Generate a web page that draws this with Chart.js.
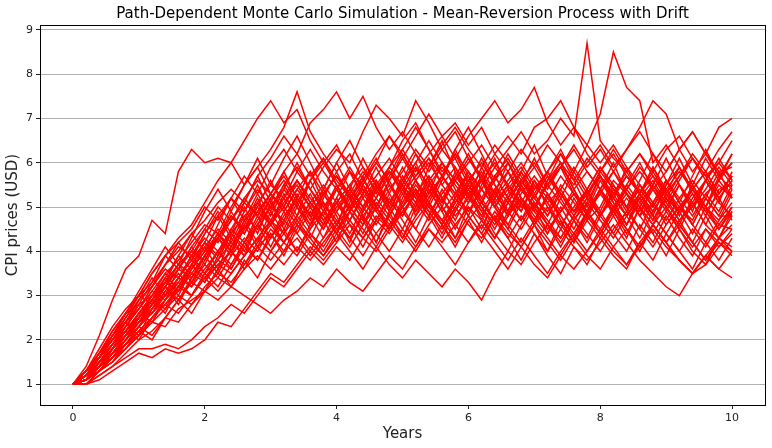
<!DOCTYPE html>
<html>
<head>
<meta charset="utf-8">
<script src="https://cdn.jsdelivr.net/npm/chart.js@4"></script>
<style>
  html, body { margin: 0; padding: 0; background: #fff; }
  canvas { display: block; }
</style>
</head>
<body>
<canvas id="mcChart" width="772" height="448"></canvas>
<script>
// time grid in years
const years = [0,0.2,0.4,0.6,0.8,1.0,1.2,1.4,1.6,1.8,2.0,2.2,2.4,2.6,2.8,3.0,3.2,3.4,3.6,3.8,4.0,4.2,4.4,4.6,4.8,5.0,5.2,5.4,5.6,5.8,6.0,6.2,6.4,6.6,6.8,7.0,7.2,7.4,7.6,7.8,8.0,8.2,8.4,8.6,8.8,9.0,9.2,9.4,9.6,9.8,10.0];

const xTicks = [0, 2, 4, 6, 8, 10];
const yTicks = [1, 2, 3, 4, 5, 6, 7, 8, 9];

// simulated CPI paths
const path01 = [1.0,1.4,2.1,2.9,3.6,3.9,4.7,4.4,5.8,6.3,6.0,6.1,6.0,5.5,5.9,5.3,5.0,5.6,5.2,4.8,5.4,5.0,4.6,5.2,5.8,5.5,6.0,5.4,4.9,5.3,5.7,5.1,4.7,5.2,4.9,5.5,5.1,4.6,5.0,5.4,4.8,5.2,5.7,5.3,4.9,5.4,5.0,4.7,5.3,5.6,5.2];
const path02 = [1.0,1.2,1.7,2.2,2.6,3.0,3.3,3.9,4.3,4.6,5.1,5.6,6.0,6.5,7.0,7.4,6.9,7.2,6.5,6.0,6.4,5.8,5.5,6.0,6.6,6.2,5.7,6.1,5.5,5.9,5.3,5.6,5.0,5.4,5.8,5.2,4.9,5.5,5.1,4.7,5.0,5.6,5.3,4.8,5.1,4.6,5.0,5.4,4.9,5.3,5.7];
const path03 = [1.0,1.1,1.5,1.9,2.4,2.7,3.1,3.5,3.8,4.2,4.6,4.4,5.0,5.5,5.9,6.3,6.8,7.6,6.7,6.2,5.8,6.2,5.6,5.2,5.7,6.3,6.8,6.3,5.8,6.1,5.5,5.1,5.6,6.0,5.4,5.0,5.5,5.9,5.3,4.9,5.4,5.0,4.6,5.1,5.5,5.0,4.6,5.2,5.6,5.1,4.8];
const path04 = [1.0,1.3,1.6,2.0,2.5,2.9,3.2,3.7,4.0,4.4,4.7,5.1,5.4,5.1,5.7,6.1,6.6,6.2,6.9,7.2,7.6,7.0,7.5,6.8,6.3,6.7,6.2,5.8,6.3,5.9,5.4,5.8,5.2,5.6,6.0,5.5,5.1,5.4,4.9,5.3,5.7,5.2,4.8,5.2,5.6,5.1,4.7,5.0,5.4,5.9,5.5];
const path05 = [1.0,1.0,1.3,1.5,1.8,2.1,2.4,2.3,2.7,2.9,3.1,2.9,3.2,3.0,2.8,2.6,2.9,3.1,3.4,3.2,3.6,3.3,3.1,3.5,3.9,3.6,4.1,4.5,4.2,4.6,5.0,4.7,4.3,4.8,5.2,4.9,4.5,4.9,5.3,4.8,4.4,4.9,5.3,5.0,4.6,4.2,4.7,5.1,4.6,4.3,4.8];
const path06 = [1.0,1.1,1.3,1.6,1.9,2.3,2.6,2.9,3.2,3.0,3.4,3.7,4.0,3.6,4.1,4.4,4.0,4.6,4.3,3.9,4.4,4.0,3.6,4.1,3.7,3.4,3.8,3.5,3.2,3.6,3.3,2.9,3.5,4.0,3.7,4.2,4.6,4.3,4.8,4.4,4.0,4.5,4.9,4.5,4.1,4.6,5.0,4.6,4.2,4.7,5.1];
const path07 = [1.0,1.2,1.6,2.1,2.4,2.8,3.0,3.4,3.9,3.6,4.0,4.3,4.8,4.5,5.1,5.5,5.2,5.8,5.4,5.9,6.3,6.0,6.7,7.3,7.0,6.6,7.4,6.9,6.3,6.7,6.1,5.6,6.0,5.5,5.0,5.4,5.8,5.3,4.9,5.3,5.7,5.2,4.8,5.3,5.7,5.2,4.9,5.4,5.0,4.6,5.0];
const path08 = [1.0,1.2,1.5,1.8,2.2,2.5,2.9,3.3,3.1,3.6,4.0,4.4,4.1,4.7,5.0,4.6,5.1,5.5,5.0,5.4,4.9,5.3,5.8,5.4,5.9,6.3,5.8,6.2,6.6,6.1,6.6,7.0,7.4,6.9,7.2,7.7,6.9,6.4,6.8,6.2,5.8,6.2,5.7,5.3,5.8,5.3,4.9,5.4,5.8,5.3,5.7];
const path09 = [1.0,1.3,1.7,2.1,2.6,2.8,3.3,3.7,4.1,3.9,4.4,4.8,5.2,4.9,5.4,5.0,5.5,5.9,5.4,5.0,5.4,5.8,5.3,5.7,6.1,5.6,6.0,6.5,6.0,5.6,6.0,6.4,5.9,6.3,6.7,6.2,6.5,7.0,6.6,8.7,6.5,6.1,5.8,6.2,5.7,5.3,5.7,6.1,5.6,5.2,5.6];
const path10 = [1.0,1.1,1.4,1.8,2.1,2.5,2.9,3.2,3.6,3.4,3.9,4.3,4.0,4.5,4.9,4.6,5.0,4.6,5.1,5.5,5.1,4.7,5.2,5.6,5.1,4.8,5.3,5.7,5.2,4.8,5.2,5.6,5.1,5.5,5.9,5.4,5.8,6.2,5.8,6.4,7.1,8.5,7.7,7.4,6.0,6.4,5.9,5.4,5.8,5.3,5.7];
const path11 = [1.0,1.2,1.5,1.9,2.2,2.6,2.9,3.4,3.2,3.7,4.1,4.5,4.2,4.8,5.1,4.7,5.2,5.6,5.1,4.7,5.1,5.5,5.0,5.4,5.8,5.3,4.9,5.3,5.7,5.2,5.6,6.0,5.5,5.1,5.6,6.0,5.5,5.9,6.4,5.9,6.3,5.8,6.3,6.8,7.4,7.1,6.3,6.7,6.2,6.8,7.0];
const path12 = [1.0,1.1,1.3,1.6,1.9,2.1,2.4,2.7,3.0,2.8,3.2,3.5,3.3,3.7,4.1,3.8,4.2,4.6,4.2,3.9,4.3,4.7,4.3,4.0,4.5,4.9,4.5,4.1,4.6,4.2,4.7,5.1,4.7,4.3,4.8,4.4,4.0,4.5,4.1,3.8,4.2,4.6,4.2,3.8,3.5,3.2,3.0,3.5,3.9,3.6,4.0];
const path13 = [1.0,1.0,1.2,1.4,1.7,2.0,2.2,2.5,2.4,2.8,3.1,3.4,3.2,3.6,3.9,3.6,4.0,4.3,3.9,4.3,4.7,4.3,3.9,4.4,4.8,4.4,4.0,4.5,4.1,3.7,4.2,4.6,4.2,3.8,4.3,3.9,3.5,4.0,4.4,4.0,4.5,4.1,3.7,4.2,4.6,4.2,3.8,3.5,3.9,3.6,3.4];
const path14 = [1.0,1.2,1.4,1.8,2.1,2.4,2.8,3.0,3.4,3.8,3.5,4.0,4.4,4.1,4.6,5.0,4.7,5.2,4.8,5.3,5.7,5.3,4.9,5.4,5.8,5.4,5.0,5.5,5.9,5.5,5.1,5.6,5.2,4.8,5.3,5.7,5.3,4.9,5.4,5.8,5.4,5.0,5.5,5.1,4.7,5.2,5.7,6.2,5.8,6.3,6.7];
const path15 = [1.0,1.1,1.5,1.7,2.0,2.3,2.7,3.1,2.9,3.3,3.7,3.4,3.9,4.3,4.0,4.5,4.2,4.7,5.1,4.8,4.4,4.9,5.3,4.9,5.4,5.8,6.3,5.9,6.4,6.8,6.3,5.9,6.4,6.0,5.5,5.9,6.4,6.0,5.6,6.1,5.7,5.3,5.8,6.2,5.8,6.3,6.6,6.1,5.7,6.0,6.5];
const path16 = [1.0,1.1,1.4,1.7,1.9,2.2,2.5,2.8,3.2,3.0,3.5,3.8,3.6,4.1,3.8,4.3,4.7,4.4,4.9,4.5,5.0,5.4,5.0,4.6,5.1,5.5,5.1,4.7,5.2,5.6,5.2,4.8,5.3,4.9,4.5,5.0,4.6,4.2,4.7,5.1,4.7,4.3,4.8,5.2,4.8,4.4,4.9,5.3,4.9,4.5,4.9];
const path17 = [1.0,1.0,1.1,1.3,1.5,1.7,1.6,1.8,1.7,1.8,2.0,2.4,2.3,2.7,3.1,3.5,3.3,3.7,4.1,3.8,4.2,4.6,4.3,4.8,4.5,5.0,5.4,5.0,4.6,5.1,5.5,5.1,4.7,5.2,5.6,5.2,4.8,5.3,4.9,5.3,5.8,5.4,5.0,5.5,5.1,4.7,5.2,5.6,5.2,4.8,5.4];
const path18 = [1.0,1.0,1.2,1.4,1.6,1.8,1.8,1.9,1.8,2.0,2.3,2.5,2.8,2.6,3.0,3.4,3.2,3.6,4.0,3.7,4.1,3.8,4.3,4.7,4.4,4.9,5.3,4.9,4.5,5.0,4.6,4.3,4.8,4.4,4.1,4.6,5.0,4.6,4.2,4.7,4.3,4.8,5.2,4.8,4.4,4.9,4.5,4.1,4.5,4.2,4.0];
const path19 = [1.0,1.2,1.6,2.0,2.3,2.7,3.1,2.9,3.4,3.8,4.2,3.9,4.4,4.8,4.5,5.0,5.4,5.0,4.6,5.1,4.7,4.3,4.8,5.2,4.8,5.3,5.7,6.1,5.7,6.2,5.8,5.4,5.9,5.5,5.1,4.7,5.2,4.8,4.4,4.9,5.3,4.9,5.4,5.8,5.4,5.0,5.5,5.1,5.6,6.0,5.6];
const path20 = [1.0,1.1,1.4,1.6,1.9,2.3,2.1,2.5,2.9,3.3,3.1,3.6,4.0,3.7,4.2,4.6,4.2,3.9,4.4,4.1,4.6,5.0,4.6,5.1,4.7,4.3,4.8,5.2,5.7,5.3,4.9,5.4,5.0,4.6,4.2,4.7,4.3,3.9,4.4,4.8,4.4,4.9,4.5,4.1,4.6,5.0,4.6,4.2,3.8,4.3,4.1];
const path21 = [1.0,1.3,1.8,2.3,2.7,3.0,3.5,3.9,3.6,4.1,4.5,5.0,4.7,5.2,5.6,5.3,5.8,6.2,5.7,6.1,5.6,5.2,5.7,6.2,6.6,6.1,6.6,7.1,6.6,6.9,6.4,6.8,6.2,5.8,6.3,5.9,5.4,5.9,6.3,5.8,5.4,5.8,5.3,4.9,5.4,5.8,6.3,5.8,6.2,5.8,5.9];
const path22 = [1.0,1.2,1.5,1.9,2.3,2.5,3.0,3.3,3.7,4.0,3.8,4.3,4.7,5.2,4.8,5.3,4.9,5.4,5.8,5.3,4.9,5.4,5.0,5.5,5.9,5.5,5.1,5.6,6.0,5.6,6.1,5.7,6.2,6.6,6.2,6.8,7.0,7.4,6.8,6.4,6.0,6.4,5.9,5.5,5.1,5.6,5.2,4.8,5.3,4.9,5.5];
const path23 = [1.0,1.1,1.4,1.8,2.1,2.4,2.6,3.0,3.3,3.7,3.4,3.8,4.2,3.9,4.3,4.7,4.4,4.0,4.5,4.9,4.5,4.1,4.6,5.0,4.6,4.2,4.7,5.1,4.7,4.3,4.8,4.4,4.0,3.6,4.1,3.7,3.4,3.9,3.6,4.0,4.4,4.0,3.7,4.1,4.5,4.1,3.8,3.5,3.9,4.3,4.0];
const path24 = [1.0,1.2,1.5,1.7,2.1,2.5,2.8,3.2,3.6,4.0,4.5,4.2,4.7,5.1,4.8,5.3,5.7,5.2,4.8,5.3,5.7,5.2,5.6,6.0,5.6,6.1,5.6,5.2,5.7,5.3,5.8,5.4,5.0,5.5,5.1,5.6,5.2,5.7,5.3,4.9,5.3,5.8,5.4,5.9,5.5,5.1,5.6,6.1,5.7,5.2,5.6];
const path25 = [1.0,1.1,1.3,1.5,1.8,2.2,2.5,2.8,2.6,3.0,3.4,3.1,3.5,3.9,4.3,4.0,4.4,4.8,4.4,4.0,4.5,4.9,4.5,4.1,4.6,5.0,5.5,5.1,4.7,5.2,4.8,4.4,4.9,4.5,4.1,4.6,4.2,3.8,4.3,3.9,3.6,4.1,4.5,4.1,4.6,4.2,3.8,3.5,3.7,4.1,4.4];
const path26 = [1.0,1.2,1.6,1.9,2.2,2.6,3.0,3.3,3.7,3.5,3.9,4.3,4.8,4.4,4.9,5.3,4.9,5.4,5.0,4.6,5.1,5.5,5.9,5.5,5.1,5.6,5.2,4.8,5.3,5.7,5.3,4.9,5.4,5.8,5.4,5.0,5.5,5.1,4.7,5.2,4.8,5.3,5.7,5.3,4.9,5.4,5.8,5.4,5.0,5.5,5.2];
const path27 = [1.0,1.1,1.4,1.7,2.0,2.4,2.7,3.0,3.4,3.2,3.6,4.0,3.7,4.2,4.6,4.3,4.8,5.2,4.8,5.3,5.7,5.3,4.9,5.4,5.8,5.4,5.9,5.5,5.1,5.6,5.2,5.7,5.3,4.9,5.4,5.0,5.5,5.9,5.5,6.0,6.4,5.9,6.3,6.7,6.2,5.8,6.3,6.7,6.2,5.7,6.0];
const path28 = [1.0,1.3,1.7,2.0,2.4,2.9,3.2,3.6,3.4,3.9,4.3,4.0,4.5,4.2,4.7,5.2,5.6,5.1,5.6,6.0,5.5,5.0,5.4,4.9,4.5,5.0,5.4,5.0,4.6,5.1,5.5,5.0,4.6,5.1,4.7,5.1,4.7,4.3,4.8,5.2,4.8,4.4,4.9,5.3,4.8,4.4,4.0,4.5,4.1,4.6,4.5];
const path29 = [1.0,1.1,1.3,1.6,1.8,2.1,2.5,2.8,3.1,3.5,3.3,3.7,3.5,3.9,4.3,4.0,3.7,4.1,3.8,4.2,4.6,4.3,4.8,4.4,4.0,4.5,4.1,4.6,5.0,4.6,4.2,4.7,4.3,4.8,5.2,4.8,4.4,4.9,5.3,4.9,4.5,5.0,5.4,5.0,4.6,4.2,4.6,4.2,3.8,4.2,3.9];
const path30 = [1.0,1.2,1.6,2.1,2.6,3.0,3.5,3.9,4.2,4.5,5.0,4.7,5.2,5.7,5.3,5.9,6.3,5.8,6.3,5.8,5.4,5.9,5.4,5.0,5.5,5.1,5.6,6.0,5.5,5.1,5.6,5.2,5.7,6.1,5.6,5.2,5.7,5.3,4.9,5.4,5.9,5.5,5.0,5.4,5.0,5.5,5.9,5.4,5.0,4.7,5.3];
const path31 = [1.0,1.2,1.5,1.9,2.3,2.8,2.6,3.1,3.5,3.2,3.8,4.3,3.9,4.6,5.2,4.6,5.3,4.8,5.6,5.0,4.4,5.1,5.7,5.0,4.5,5.2,5.9,5.3,6.0,5.4,4.8,5.5,6.1,5.4,4.9,5.6,5.0,4.5,5.2,4.7,5.4,6.0,5.3,4.8,5.5,6.1,5.5,4.9,5.6,5.1,5.8];
const path32 = [1.0,1.1,1.4,1.7,2.1,2.4,2.9,3.4,3.0,3.6,4.1,3.6,4.3,3.9,4.6,5.2,4.5,5.1,4.6,5.3,4.8,4.2,4.9,5.5,4.9,4.3,5.0,5.6,5.0,5.7,6.2,5.6,5.0,4.5,5.1,4.6,4.0,4.7,4.2,4.8,5.4,4.8,4.3,5.0,4.4,3.9,4.5,4.0,3.7,4.3,4.6];
const path33 = [1.0,1.3,1.6,2.0,2.4,2.1,2.7,3.2,2.8,3.4,3.9,4.4,4.0,4.7,4.2,4.9,5.5,5.0,4.5,5.2,5.8,5.2,4.7,5.4,4.9,5.6,6.2,5.6,5.1,5.8,5.3,4.7,5.4,4.8,5.5,6.1,5.5,6.0,5.4,4.9,5.6,5.1,4.6,5.3,5.9,5.3,4.8,5.5,5.0,5.7,5.4];
const path34 = [1.0,1.1,1.3,1.7,2.0,2.5,2.9,2.6,3.2,3.7,3.3,3.9,4.5,5.0,4.4,5.1,4.6,5.2,5.8,5.1,4.6,5.3,4.8,4.2,4.9,5.5,4.8,5.4,4.9,4.3,5.0,4.5,5.2,5.8,5.2,4.6,5.3,4.7,4.2,4.9,4.4,5.0,4.5,4.0,4.6,5.2,4.7,4.2,4.8,4.3,4.9];
const path35 = [1.0,1.2,1.5,1.8,2.3,2.7,3.2,3.7,4.2,3.8,4.4,4.9,4.4,5.1,5.7,5.1,5.8,5.2,4.7,5.4,6.0,5.4,6.1,5.5,5.0,5.7,5.2,5.9,6.5,5.8,5.2,5.9,5.3,6.0,5.5,4.9,5.6,6.2,5.6,5.0,5.7,5.2,5.9,5.3,4.8,5.5,6.1,5.5,5.0,5.6,6.0];
const path36 = [1.0,1.1,1.4,1.6,2.0,2.3,2.8,3.2,2.9,3.4,3.9,3.5,4.1,4.6,4.1,4.7,4.2,4.8,5.3,4.7,4.2,4.9,4.4,5.0,5.6,5.0,4.5,5.1,4.6,4.1,4.7,4.2,4.8,4.3,3.8,4.4,3.9,3.5,4.1,3.7,4.3,3.9,3.6,4.2,3.8,4.4,4.0,3.6,4.2,3.8,4.3];
const path37 = [1.0,1.2,1.4,1.8,2.1,2.6,3.0,3.5,3.1,3.7,4.2,4.8,4.3,4.9,5.5,4.9,4.4,5.0,5.6,6.1,5.5,4.9,5.5,5.0,5.6,6.2,5.6,5.0,5.6,6.3,5.7,5.1,5.7,5.2,5.8,6.4,5.7,5.2,5.8,5.3,4.8,5.4,5.0,5.6,6.2,5.6,5.1,5.7,6.3,5.7,6.2];
const path38 = [1.0,1.0,1.3,1.5,1.9,2.2,2.0,2.5,2.9,2.6,3.1,3.6,3.2,3.8,3.4,4.0,4.5,4.0,4.6,5.1,4.6,5.2,4.7,4.2,4.8,5.4,4.9,5.5,5.0,4.5,5.1,5.7,5.1,4.6,5.2,4.7,5.3,4.8,4.3,4.9,5.4,4.9,4.4,5.0,5.5,5.0,4.5,5.1,4.6,5.2,4.7];
const path39 = [1.0,1.2,1.6,2.0,2.4,2.9,3.4,3.0,3.6,4.1,3.7,4.3,4.9,4.4,5.0,5.6,5.0,5.6,5.1,4.6,5.2,5.8,5.2,4.7,5.3,5.9,5.3,4.8,5.4,4.9,5.5,6.1,5.5,4.9,5.5,5.0,5.6,6.0,5.4,4.8,5.4,4.9,5.5,6.0,5.4,4.9,5.5,5.0,5.6,6.1,5.6];
const path40 = [1.0,1.1,1.5,1.8,2.2,2.6,2.4,2.9,3.4,3.9,3.5,4.0,3.6,4.2,4.8,4.3,4.9,4.4,4.0,4.6,5.2,4.7,5.3,5.9,5.3,4.8,5.4,4.9,4.4,5.0,5.5,5.0,4.5,5.1,5.6,5.1,4.6,5.2,4.7,4.2,4.8,5.3,4.8,4.3,4.9,5.4,4.9,4.4,5.0,4.5,5.0];
const path41 = [1.0,1.3,1.7,2.2,2.6,3.1,3.6,4.1,3.7,4.3,4.9,5.4,4.9,5.5,6.1,5.5,6.1,6.6,6.0,5.4,6.0,6.5,5.9,5.3,5.9,6.5,6.9,6.3,5.7,6.3,6.8,6.2,5.6,6.2,5.7,5.2,5.8,6.3,5.7,5.2,5.8,6.3,5.8,5.3,5.9,5.4,4.9,5.5,6.1,5.6,6.2];
const path42 = [1.0,1.1,1.4,1.8,2.2,2.5,2.9,2.7,3.2,3.7,4.2,3.8,4.4,4.0,4.6,4.1,4.7,5.3,4.8,4.3,4.9,4.4,5.0,5.6,5.0,4.5,5.1,5.7,5.2,4.7,5.3,4.8,4.3,4.9,5.5,5.0,4.4,5.0,4.5,5.1,5.7,5.1,4.6,5.2,4.7,5.3,5.9,5.3,4.8,5.4,5.5];
const path43 = [1.0,1.2,1.5,1.9,2.2,2.0,2.5,2.9,3.3,3.0,3.5,3.2,3.7,4.2,3.8,4.4,3.9,4.5,5.0,4.5,5.1,4.6,4.1,4.7,5.2,4.7,4.2,4.8,4.3,4.9,5.4,4.9,4.4,4.0,4.6,5.1,4.6,4.1,4.7,4.3,4.9,4.4,4.0,4.6,4.2,4.8,4.3,3.9,4.5,4.1,4.5];
const path44 = [1.0,1.3,1.6,2.1,2.5,3.0,2.8,3.3,3.9,4.4,4.0,4.6,5.2,4.7,5.3,4.8,5.4,6.0,5.4,4.9,5.5,5.0,5.6,6.1,5.5,5.0,5.6,5.1,5.7,6.2,5.6,5.1,5.7,5.2,4.7,5.3,5.8,5.3,4.8,5.4,5.9,5.4,4.9,5.5,5.0,5.6,5.1,4.6,5.2,5.8,5.2];
const path45 = [1.0,1.1,1.3,1.6,2.0,2.4,2.8,3.2,3.7,3.3,3.9,4.4,4.0,4.5,5.1,4.6,5.2,4.7,4.3,4.9,5.4,4.9,5.5,5.0,4.5,5.1,5.6,5.1,4.6,5.2,5.8,5.2,4.7,5.3,5.8,5.3,4.8,5.4,5.9,5.4,4.9,5.5,5.0,4.5,5.1,5.6,5.1,4.6,5.2,4.8,4.8];

const paths = [path01, path02, path03, path04, path05, path06, path07, path08, path09, path10,
  path11, path12, path13, path14, path15, path16, path17, path18, path19, path20,
  path21, path22, path23, path24, path25, path26, path27, path28, path29, path30,
  path31, path32, path33, path34, path35, path36, path37, path38, path39, path40,
  path41, path42, path43, path44, path45];

Chart.defaults.font.family = "'DejaVu Sans', sans-serif";
Chart.defaults.color = '#222';

// matplotlib-style box around the plot area
const frame = {
  id: 'frame',
  afterDraw(chart) {
    const { ctx, chartArea: a } = chart;
    ctx.save();
    ctx.strokeStyle = '#000';
    ctx.lineWidth = 1;
    ctx.strokeRect(Math.round(a.left) + 0.5, Math.round(a.top) + 0.5,
      Math.round(a.right - a.left), Math.round(a.bottom - a.top));
    ctx.restore();
  }
};

const datasets = paths.map((p, i) => ({
  label: 'path ' + (i + 1),
  data: p.map((v, j) => ({ x: years[j], y: v })),
  borderColor: '#ff0000',
  borderWidth: 1.5,
  pointRadius: 0,
  tension: 0,
  fill: false
}));

new Chart(document.getElementById('mcChart').getContext('2d'), {
  type: 'line',
  data: { datasets },
  options: {
    responsive: false,
    animation: false,
    devicePixelRatio: 1,
    layout: { padding: { left: 0, right: 7, top: 0, bottom: 0 } },
    scales: {
      x: {
        type: 'linear',
        min: -0.5,
        max: 10.5,
        afterFit(scale) { scale.height = 43; },
        afterBuildTicks(scale) { scale.ticks = xTicks.map(v => ({ value: v })); },
        ticks: { font: { size: 11 }, padding: 3, maxRotation: 0 },
        grid: { drawOnChartArea: false, drawTicks: true, tickLength: 4, tickColor: '#222' },
        border: { display: true, color: '#000' },
        title: { display: true, text: 'Years', font: { size: 15 }, padding: { top: 2, bottom: 5 } }
      },
      y: {
        type: 'linear',
        min: 0.53,
        max: 9.11,
        afterFit(scale) { scale.width = 40; },
        afterBuildTicks(scale) { scale.ticks = yTicks.map(v => ({ value: v })); },
        ticks: { font: { size: 11 }, padding: 3 },
        grid: { color: '#b0b0b0', lineWidth: 1, drawTicks: true, tickLength: 4, tickColor: '#222' },
        border: { display: true, color: '#000' },
        title: { display: true, text: 'CPI prices (USD)', font: { size: 15 }, padding: { top: 4, bottom: 2 } }
      }
    },
    plugins: {
      legend: { display: false },
      tooltip: { enabled: false },
      title: {
        display: true,
        text: 'Path-Dependent Monte Carlo Simulation - Mean-Reversion Process with Drift',
        fullSize: false,
        font: { size: 15, weight: 'normal', lineHeight: 1 },
        color: '#000',
        padding: { top: 7, bottom: 3 }
      }
    }
  },
  plugins: [frame]
});
</script>
</body>
</html>
